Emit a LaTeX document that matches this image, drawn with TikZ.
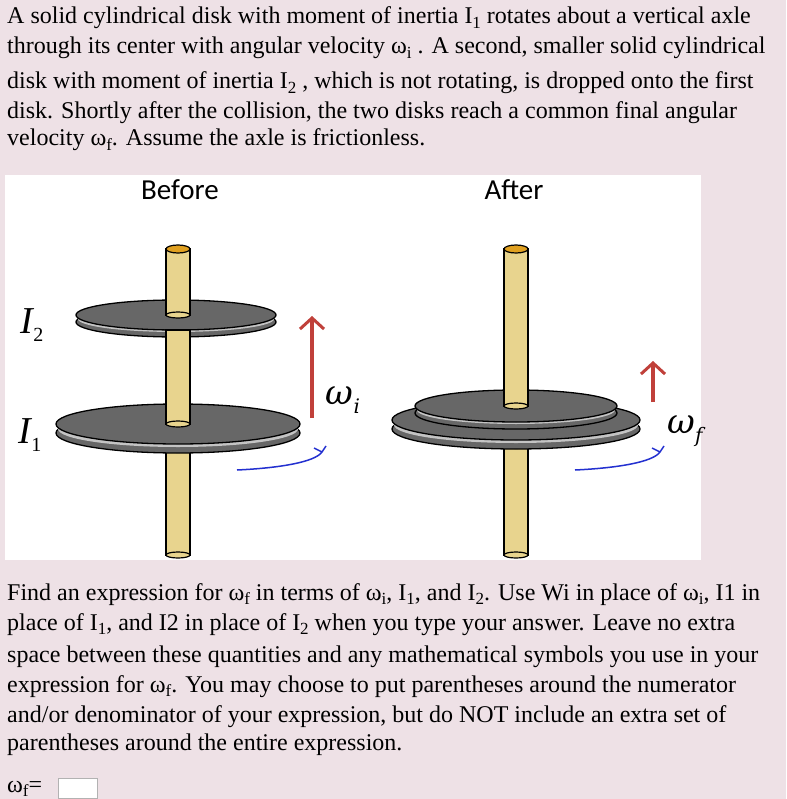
\documentclass[tikz,border=0pt]{standalone}
\usetikzlibrary{arrows.meta}
\usepackage{fontspec}
\setmainfont{Liberation Serif}
\newfontfamily\calib{Carlito}
\newfontfamily\dvs{DejaVu Serif}
\newcommand\lowx[1]{\raisebox{-0.4ex}{\fontsize{17}{17}\selectfont #1}}
\newcommand\lowy[1]{\raisebox{-0.5ex}{\fontsize{20}{20}\selectfont #1}}
\definecolor{bgpink}{HTML}{EEE1E6}
\definecolor{shaft}{HTML}{E8D48E}
\definecolor{shafttop}{HTML}{E0A020}
\definecolor{diskdark}{HTML}{676767}
\definecolor{disklight}{HTML}{C4C4C4}
\definecolor{redarr}{HTML}{C0403A}
\definecolor{bluearr}{HTML}{2330D0}
\begin{document}
\begin{tikzpicture}[x=1pt,y=-1pt,
  txt/.style={anchor=base west,inner sep=0pt,font=\fontsize{24}{28}\selectfont},
  lab/.style={inner sep=0pt,font=\fontsize{38}{38}\selectfont\itshape},
  omg/.style={inner sep=0pt,font=\dvs\fontsize{34}{34}\selectfont\itshape},
  head/.style={inner sep=0pt,font=\calib\fontsize{29}{29}\selectfont},
  shaftst/.style={fill=shaft,draw=black,line width=1.2pt},
  redst/.style={draw=redarr,line width=3.5pt,-{Straight Barb[length=11pt,width=24pt,line width=3pt]}},
  bluest/.style={draw=bluearr,line width=1.5pt}]
\fill[bgpink] (0,0) rectangle (786,799);
\fill[white] (5,175) rectangle (701,560);
\node[txt] (l1) at (7,24) {A solid cylindrical disk with moment of inertia I\lowx{1} rotates about a vertical axle};
\node[txt] (l2) at (7,54) {through its center with angular velocity ω\lowx{i} . A second, smaller solid cylindrical};
\node[txt] (l3) at (7,89) {disk with moment of inertia I\lowx{2} , which is not rotating, is dropped onto the first};
\node[txt] (l4) at (7,119) {disk. Shortly after the collision, the two disks reach a common final angular};
\node[txt] (l5) at (7,146) {velocity ω\lowx{f}. Assume the axle is frictionless.};
\node[txt] (b1) at (7,600) {Find an expression for ω\lowx{f} in terms of ω\lowx{i}, I\lowx{1}, and I\lowx{2}. Use Wi in place of ω\lowx{i}, I1 in};
\node[txt] (b2) at (7,630) {place of I\lowx{1}, and I2 in place of I\lowx{2} when you type your answer. Leave no extra};
\node[txt] (b3) at (7,662) {space between these quantities and any mathematical symbols you use in your};
\node[txt] (b4) at (7,692) {expression for ω\lowx{f}. You may choose to put parentheses around the numerator};
\node[txt] (b5) at (7,722) {and/or denominator of your expression, but do NOT include an extra set of};
\node[txt] (b6) at (7,750) {parentheses around the entire expression.};
\node[txt] (ans) at (7,792) {ω\lowx{f}=};
\draw[gray!60,fill=white] (58,778) rectangle (97,798);
\node[head] (before) at (180,190) {Before};
\node[head] (after) at (514,190) {After};
\node[lab] (i2) at (32,325) {I\lowy{\upshape 2}};
\node[lab] (i1) at (30,435) {I\lowy{\upshape 1}};
% before shaft
\draw[shaftst] (166,249) rectangle (190,555);
\draw[shaftst] (178,555) ellipse (12 and 3);
% I2 disk
\draw[fill=diskdark,line width=1.3pt] (176,322) ellipse (100 and 15);
\fill[disklight] (176,319) ellipse (98 and 13);
\draw[fill=diskdark,line width=1.3pt] (176,315) ellipse (100 and 15);
\draw[shaftst] (166,249) rectangle (190,315);
\draw[shaftst] (178,315) ellipse (12 and 3);
\draw[fill=shafttop,line width=1.2pt] (178,249) ellipse (12 and 4);
% I1 disk
\draw[fill=diskdark,line width=1.3pt] (178,433) ellipse (122 and 20);
\fill[disklight] (178,429) ellipse (120 and 18);
\draw[fill=diskdark,line width=1.3pt] (178,424) ellipse (122 and 20);
\draw[shaftst] (166,330) rectangle (190,424);
\draw[shaftst] (178,424) ellipse (12 and 3);
% after
\draw[shaftst] (504,249) rectangle (528,555);
\draw[shaftst] (516,555) ellipse (12 and 3);
\draw[fill=diskdark,line width=1.3pt] (516,429) ellipse (124 and 20);
\fill[disklight] (516,425) ellipse (122 and 18);
\draw[fill=diskdark,line width=1.3pt] (516,420) ellipse (124 and 20);
\draw[fill=diskdark,line width=1.3pt] (516,413) ellipse (101 and 16);
\fill[disklight] (516,410) ellipse (99 and 14);
\draw[fill=diskdark,line width=1.3pt] (516,406) ellipse (101 and 16);
\draw[shaftst] (504,249) rectangle (528,406);
\draw[shaftst] (516,406) ellipse (12 and 3);
\draw[fill=shafttop,line width=1.2pt] (516,249) ellipse (12 and 4);
% arrows
\coordinate (ra1) at (312,418);
\coordinate (ra2) at (312,316);
\draw[redst] (ra1) -- (ra2);
\node[omg] (wi) at (343,400) {ω\lowy{i}};
\coordinate (rb1) at (653,402);
\coordinate (rb2) at (653,361);
\draw[redst] (rb1) -- (rb2);
\node[omg] (wf) at (685,431) {ω\lowy{f}};
\coordinate (bl1) at (237,470);
\coordinate (bl2) at (322,452);
\draw[bluest] (bl1) .. controls (280,468) and (315,462) .. (bl2) -- (326,446) (bl2) -- (314,448);
\coordinate (bm1) at (575,470);
\coordinate (bm2) at (660,452);
\draw[bluest] (bm1) .. controls (618,468) and (653,462) .. (bm2) -- (664,446) (bm2) -- (652,448);
\end{tikzpicture}
\end{document}
